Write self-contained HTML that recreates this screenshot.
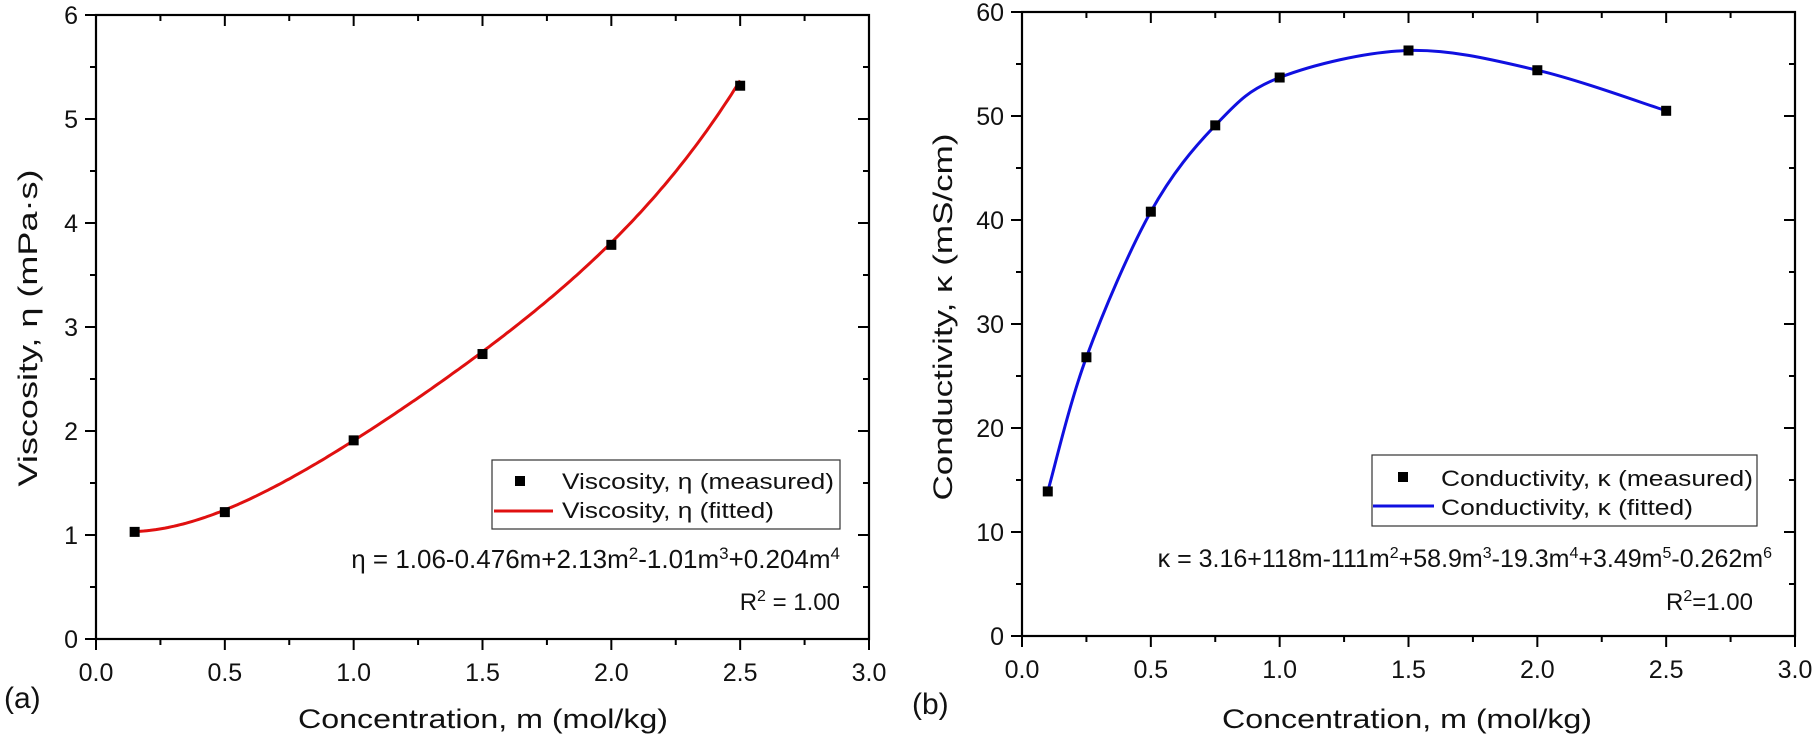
<!DOCTYPE html>
<html><head><meta charset="utf-8"><style>
html,body{margin:0;padding:0;background:#fff;width:1815px;height:738px;overflow:hidden}
svg text{font-family:"Liberation Sans",sans-serif;fill:#111}
</style></head><body>
<svg id="s" width="1815" height="738" xmlns="http://www.w3.org/2000/svg">
<g id="g"></g>
<text x="37" y="328" font-size="27" text-anchor="middle" transform="rotate(-90 37 328)" textLength="317" lengthAdjust="spacingAndGlyphs">Viscosity, η (mPa·s)</text>
<text x="483" y="728" font-size="27" text-anchor="middle" textLength="370" lengthAdjust="spacingAndGlyphs">Concentration, m (mol/kg)</text>
<text x="4" y="708" font-size="30">(a)</text>
<rect x="492" y="460" width="348" height="69" fill="none" stroke="#333" stroke-width="1.2"/>
<rect x="515" y="476" width="10" height="10" fill="#000"/>
<line x1="494" y1="511" x2="553" y2="511" stroke="#e01010" stroke-width="3"/>
<text x="562" y="489" font-size="22" textLength="272" lengthAdjust="spacingAndGlyphs">Viscosity, η (measured)</text>
<text x="562" y="518" font-size="22" textLength="212" lengthAdjust="spacingAndGlyphs">Viscosity, η (fitted)</text>
<text x="840" y="568" font-size="26" text-anchor="end">η = 1.06-0.476m+2.13m<tspan dy="-9" font-size="17">2</tspan><tspan dy="9">-1.01m</tspan><tspan dy="-9" font-size="17">3</tspan><tspan dy="9">+0.204m</tspan><tspan dy="-9" font-size="17">4</tspan></text>
<text x="840" y="610" font-size="24" text-anchor="end">R<tspan dy="-9" font-size="16">2</tspan><tspan dy="9"> = 1.00</tspan></text>
<text x="952" y="317" font-size="27" text-anchor="middle" transform="rotate(-90 952 317)" textLength="367" lengthAdjust="spacingAndGlyphs">Conductivity, κ (mS/cm)</text>
<text x="1407" y="728" font-size="27" text-anchor="middle" textLength="370" lengthAdjust="spacingAndGlyphs">Concentration, m (mol/kg)</text>
<text x="912" y="714" font-size="30">(b)</text>
<rect x="1372" y="455" width="385" height="71" fill="none" stroke="#333" stroke-width="1.2"/>
<rect x="1398" y="472" width="10" height="10" fill="#000"/>
<line x1="1373" y1="506" x2="1434" y2="506" stroke="#1010e0" stroke-width="3"/>
<text x="1441" y="486" font-size="22" textLength="312" lengthAdjust="spacingAndGlyphs">Conductivity, κ (measured)</text>
<text x="1441" y="515" font-size="22" textLength="252" lengthAdjust="spacingAndGlyphs">Conductivity, κ (fitted)</text>
<text x="1772" y="567" font-size="25" text-anchor="end">κ = 3.16+118m-111m<tspan dy="-9" font-size="16">2</tspan><tspan dy="9">+58.9m</tspan><tspan dy="-9" font-size="16">3</tspan><tspan dy="9">-19.3m</tspan><tspan dy="-9" font-size="16">4</tspan><tspan dy="9">+3.49m</tspan><tspan dy="-9" font-size="16">5</tspan><tspan dy="9">-0.262m</tspan><tspan dy="-9" font-size="16">6</tspan></text>
<text x="1753" y="610" font-size="24" text-anchor="end">R<tspan dy="-9" font-size="16">2</tspan><tspan dy="9">=1.00</tspan></text>
</svg>
<script>
var g=document.getElementById('g'),NS='http://www.w3.org/2000/svg';
function el(t,a,txt){var e=document.createElementNS(NS,t);for(var k in a)e.setAttribute(k,a[k]);if(txt!==undefined)e.textContent=txt;g.appendChild(e);return e;}
function plot(o){
 var X=function(x){return o.x0+x*(o.x1-o.x0)/3},Y=function(y){return o.y0-(y/o.ymax)*(o.y0-o.y1)};
 el('rect',{x:o.x0,y:o.y1,width:o.x1-o.x0,height:o.y0-o.y1,fill:'none',stroke:'#000','stroke-width':2.2});
 for(var i=0;i<=12;i++){var x=X(i*0.25),L=i%2?6:11;
  el('line',{x1:x,y1:o.y0,x2:x,y2:o.y0+L,stroke:'#000','stroke-width':2});
  el('line',{x1:x,y1:o.y1,x2:x,y2:o.y1+L,stroke:'#000','stroke-width':2});
  if(i%2==0)el('text',{x:x,y:o.y0+42,'font-size':25,'text-anchor':'middle'},(i*0.25).toFixed(1));}
 for(var j=0;j<=o.ymax/o.ystep*2;j++){var v=j*o.ystep/2,y=Y(v),L=j%2?6:11;
  el('line',{x1:o.x0,y1:y,x2:o.x0-L,y2:y,stroke:'#000','stroke-width':2});
  el('line',{x1:o.x1,y1:y,x2:o.x1-L,y2:y,stroke:'#000','stroke-width':2});
  if(j%2==0)el('text',{x:o.x0-18,y:y+9,'font-size':25,'text-anchor':'end'},String(v));}
 var d='';
 if(o.c){for(var k=0;k<=200;k++){var x=o.xa+(o.xb-o.xa)*k/200,v=0,p=1;for(var c=0;c<o.c.length;c++){v+=o.c[c]*p;p*=x;}d+=(k?'L':'M')+X(x).toFixed(1)+','+Y(v).toFixed(1);}}
 else{var P=o.pts.map(function(p){return [X(p[0]),Y(p[1])];});
  d='M'+P[0][0]+','+P[0][1];
  for(var i2=0;i2<P.length-1;i2++){var p0=P[Math.max(0,i2-1)],p1=P[i2],p2=P[i2+1],p3=P[Math.min(P.length-1,i2+2)];
   var c1=[p1[0]+(p2[0]-p0[0])/6,p1[1]+(p2[1]-p0[1])/6],c2=[p2[0]-(p3[0]-p1[0])/6,p2[1]-(p3[1]-p1[1])/6];
   d+='C'+c1[0].toFixed(1)+','+c1[1].toFixed(1)+' '+c2[0].toFixed(1)+','+c2[1].toFixed(1)+' '+p2[0].toFixed(1)+','+p2[1].toFixed(1);}}
 el('path',{d:d,fill:'none',stroke:o.col,'stroke-width':3});
 o.pts.forEach(function(p){el('rect',{x:X(p[0])-5,y:Y(p[1])-5,width:10,height:10,fill:'#000'});});
}
plot({x0:96,x1:869,y0:639,y1:15,ymax:6,ystep:1,col:'#e01010',xa:0.15,xb:2.5,c:[1.06,-0.476,2.13,-1.01,0.204],
 pts:[[0.15,1.03],[0.5,1.22],[1,1.91],[1.5,2.74],[2,3.79],[2.5,5.32]]});
plot({x0:1022,x1:1795,y0:636,y1:12,ymax:60,ystep:10,col:'#1010e0',
 pts:[[0.1,13.9],[0.25,26.8],[0.5,40.8],[0.75,49.1],[1,53.7],[1.5,56.3],[2,54.4],[2.5,50.5]]});
</script>
</body></html>
